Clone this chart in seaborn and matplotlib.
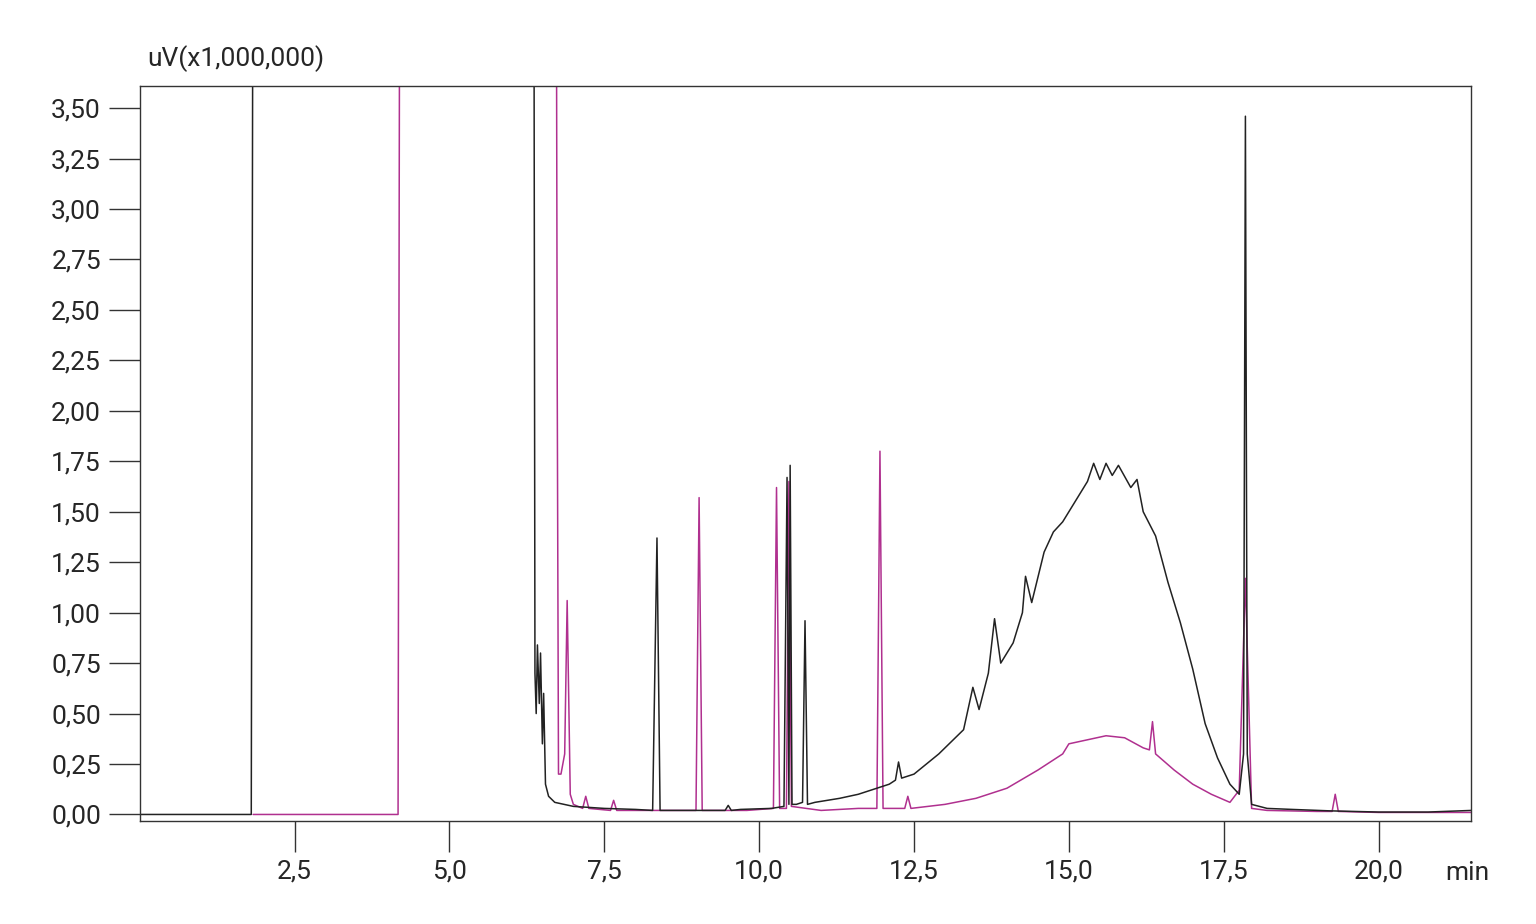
import matplotlib.pyplot as plt
import seaborn as sns

# retention time (min) / signal (uV x 1e6); 5.0 = off scale
black_t = [0.0, 1.80, 1.83, 6.36, 6.38, 6.40, 6.42, 6.45, 6.47, 6.50, 6.52, 6.55, 6.60, 6.70, 6.85, 7.0, 7.5, 8.0,
           8.28, 8.35, 8.40, 8.8, 9.45, 9.50, 9.55, 9.7, 10.2, 10.40, 10.45, 10.48, 10.50, 10.53, 10.6, 10.70, 10.74,
           10.78, 10.9, 11.3, 11.6, 11.9, 12.1, 12.2, 12.25, 12.3, 12.5, 12.7, 12.9, 13.1, 13.3, 13.45, 13.55,
           13.7, 13.8, 13.9, 14.1, 14.25, 14.3, 14.4, 14.6, 14.75, 14.9, 15.1, 15.3, 15.4, 15.5, 15.6, 15.7, 15.8,
           16.0, 16.1, 16.2, 16.4, 16.6, 16.8, 17.0, 17.2, 17.4, 17.6, 17.75, 17.82, 17.85, 17.88, 17.95, 18.2,
           18.6, 19.2, 20.0, 20.8, 21.5]
black_y = [0.0, 0.0, 5.0, 5.0, 0.70, 0.50, 0.84, 0.55, 0.80, 0.35, 0.60, 0.15, 0.09, 0.06, 0.05, 0.04, 0.03, 0.025,
           0.02, 1.37, 0.02, 0.02, 0.02, 0.045, 0.02, 0.025, 0.03, 0.04, 1.67, 0.05, 1.73, 0.05, 0.05, 0.06, 0.96,
           0.05, 0.06, 0.08, 0.10, 0.13, 0.15, 0.17, 0.26, 0.18, 0.20, 0.25, 0.30, 0.36, 0.42, 0.63, 0.52,
           0.70, 0.97, 0.75, 0.85, 1.00, 1.18, 1.05, 1.30, 1.40, 1.45, 1.55, 1.65, 1.74, 1.66, 1.74, 1.68, 1.73,
           1.62, 1.66, 1.50, 1.38, 1.15, 0.95, 0.72, 0.45, 0.28, 0.15, 0.10, 0.30, 3.46, 0.30, 0.05, 0.03,
           0.025, 0.018, 0.012, 0.012, 0.02]

magenta_t = [1.83, 4.17, 4.20, 6.72, 6.74, 6.76, 6.80, 6.86, 6.90, 6.95, 7.0, 7.15, 7.20, 7.25, 7.6, 7.65, 7.70,
             8.5, 8.98, 9.03, 9.08, 9.8, 10.23, 10.28, 10.33, 10.44, 10.48, 10.52, 11.0, 11.6, 11.90, 11.95,
             12.00, 12.35, 12.40, 12.45, 13.0, 13.5, 14.0, 14.5, 14.9, 15.0, 15.3, 15.6, 15.9, 16.2, 16.30, 16.35,
             16.40, 16.7, 17.0, 17.3, 17.6, 17.75, 17.85, 17.95, 18.2, 19.0, 19.25, 19.30, 19.35, 20.0, 21.5]
magenta_y = [0.0, 0.0, 5.0, 5.0, 2.10, 0.20, 0.20, 0.30, 1.06, 0.10, 0.05, 0.03, 0.09, 0.03, 0.02, 0.07, 0.02,
             0.02, 0.02, 1.57, 0.02, 0.02, 0.03, 1.62, 0.03, 0.03, 1.65, 0.04, 0.02, 0.03, 0.03, 1.80,
             0.03, 0.03, 0.09, 0.03, 0.05, 0.08, 0.13, 0.22, 0.30, 0.35, 0.37, 0.39, 0.38, 0.33, 0.32, 0.46,
             0.30, 0.22, 0.15, 0.10, 0.06, 0.12, 1.17, 0.03, 0.02, 0.015, 0.015, 0.10, 0.015, 0.01, 0.01]

xticks = [2.5, 5.0, 7.5, 10.0, 12.5, 15.0, 17.5, 20.0]
yticks = [0.0, 0.25, 0.5, 0.75, 1.0, 1.25, 1.5, 1.75, 2.0, 2.25, 2.5, 2.75, 3.0, 3.25, 3.5]

sns.set_style("ticks")
plt.rcParams['font.family'] = ['Roboto', 'DejaVu Sans']

fig = plt.figure(figsize=(15.36, 9.24), dpi=100)
ax = fig.add_axes([0.091, 0.112, 0.867, 0.795])

sns.lineplot(x=magenta_t, y=magenta_y, sort=False, estimator=None, color='#b0308f', linewidth=1.1, ax=ax)
sns.lineplot(x=black_t, y=black_y, sort=False, estimator=None, color='#222222', linewidth=1.1, ax=ax)

ax.set_xlim(0, 21.5)
ax.set_ylim(-0.03, 3.61)
ax.set_xticks(xticks)
ax.set_xticklabels([f"{v:.1f}".replace('.', ',') for v in xticks])
ax.set_yticks(yticks)
ax.set_yticklabels([f"{v:.2f}".replace('.', ',') for v in yticks])
ax.tick_params(axis='both', labelsize=19, length=22, width=1, direction='out', color='#333333', pad=6)
for s in ax.spines.values():
    s.set_linewidth(1)
    s.set_color('#333333')

fig.text(0.096, 0.922, "uV(x1,000,000)", fontsize=19, ha='left', va='bottom')
fig.text(0.941, 0.055, "min", fontsize=19, ha='left', va='center')

fig.savefig("out.png", dpi=100)
